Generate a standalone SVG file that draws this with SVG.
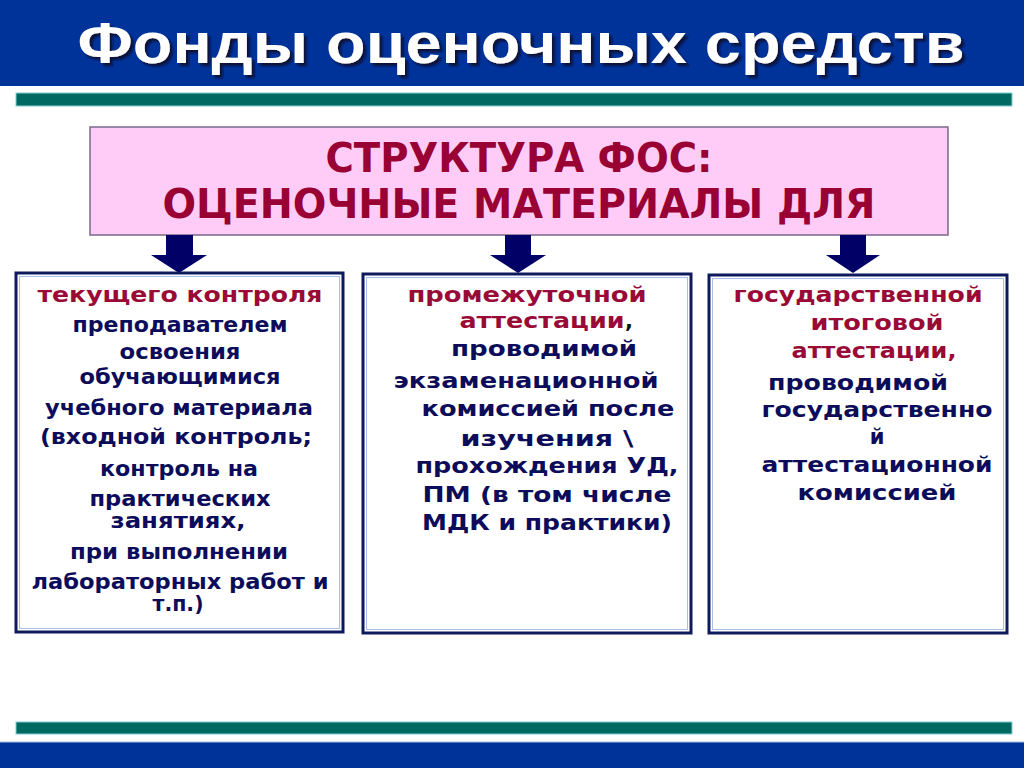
<svg xmlns="http://www.w3.org/2000/svg" width="1024" height="768" viewBox="0 0 1024 768">
<style>
.t{font-family:"DejaVu Sans","Liberation Sans",sans-serif;font-weight:bold;font-size:21px;fill:#0c0c5a;text-anchor:middle}
.r{fill:#9a0a36}
.hd{font-family:"Liberation Sans",Arial,sans-serif;font-weight:bold;text-anchor:middle}
.sub{font-family:"DejaVu Sans","Liberation Sans",sans-serif;font-weight:bold;text-anchor:middle;fill:#990033;font-size:40px}
.box{fill:#ffffff;stroke:#0f1a5e;stroke-width:3}
.inner{fill:none;stroke:#a8c0e8;stroke-width:1}
.arr{fill:#000066}
</style>
<defs>
<filter id="sh" x="-5%" y="-20%" width="110%" height="150%">
<feDropShadow dx="3" dy="3" stdDeviation="1.2" flood-color="#101030" flood-opacity="0.9"/>
</filter>
</defs>
<rect x="0" y="0" width="1024" height="768" fill="#ffffff"/>
<g id="header">
<rect x="0" y="0" width="1024" height="86" fill="#003399"/>
<rect x="16" y="93" width="996" height="13" fill="#006a62" stroke="#7fd0d0" stroke-width="1"/>
<text class="hd" x="521" y="63" font-size="57" fill="#ffffff" filter="url(#sh)" textLength="887" lengthAdjust="spacingAndGlyphs">Фонды оценочных средств</text>
</g>
<g id="footer">
<rect x="16" y="722" width="996" height="12" fill="#006a62" stroke="#7fd0d0" stroke-width="1"/>
<rect x="0" y="742" width="1024" height="26" fill="#003399"/>
<line x1="0" y1="742" x2="1024" y2="742" stroke="#9fc0e8" stroke-width="1"/>
</g>
<g id="structure">
<rect x="90" y="127" width="858" height="108" fill="#ffccf8" stroke="#7a6a8a" stroke-width="1.5"/>
<text class="sub" x="519" y="172" textLength="387" lengthAdjust="spacingAndGlyphs">СТРУКТУРА ФОС:</text>
<text class="sub" x="519" y="218" textLength="713" lengthAdjust="spacingAndGlyphs">ОЦЕНОЧНЫЕ МАТЕРИАЛЫ ДЛЯ</text>
</g>
<g id="connectors">
<polygon class="arr" points="166,235 193,235 193,255 207,255 179,273 151,255 166,255"/>
<polygon class="arr" points="505,235 531,235 531,255 546,255 518,273 490,255 505,255"/>
<polygon class="arr" points="840,235 866,235 866,255 880,255 853,273 826,255 840,255"/>
</g>
<g id="current">
<rect class="box" x="16" y="273" width="327" height="359"/>
<rect class="inner" x="19.5" y="276.5" width="320" height="352"/>
<text class="t r" x="180" y="302" textLength="285" lengthAdjust="spacingAndGlyphs">текущего контроля</text>
<text class="t" x="180" y="332" textLength="215" lengthAdjust="spacingAndGlyphs">преподавателем</text>
<text class="t" x="180" y="359" textLength="121" lengthAdjust="spacingAndGlyphs">освоения</text>
<text class="t" x="180" y="384" textLength="201" lengthAdjust="spacingAndGlyphs">обучающимися</text>
<text class="t" x="179" y="415" textLength="268" lengthAdjust="spacingAndGlyphs">учебного материала</text>
<text class="t" x="176" y="444" textLength="272" lengthAdjust="spacingAndGlyphs">(входной контроль;</text>
<text class="t" x="179" y="476" textLength="158" lengthAdjust="spacingAndGlyphs">контроль на</text>
<text class="t" x="180" y="506" textLength="181" lengthAdjust="spacingAndGlyphs">практических</text>
<text class="t" x="178" y="528" textLength="135" lengthAdjust="spacingAndGlyphs">занятиях,</text>
<text class="t" x="179" y="559" textLength="218" lengthAdjust="spacingAndGlyphs">при выполнении</text>
<text class="t" x="180" y="589" textLength="297" lengthAdjust="spacingAndGlyphs">лабораторных работ и</text>
<text class="t" x="178" y="611" textLength="51" lengthAdjust="spacingAndGlyphs">т.п.)</text>
</g>
<g id="intermediate">
<rect class="box" x="363" y="274" width="328" height="359"/>
<rect class="inner" x="366.5" y="277.5" width="321" height="352"/>
<text class="t r" x="527" y="302" textLength="239" lengthAdjust="spacingAndGlyphs">промежуточной</text>
<text class="t r" x="542" y="328" textLength="165" lengthAdjust="spacingAndGlyphs">аттестации</text>
<text class="t" x="629" y="328" style="fill:#111111">,</text>
<text class="t" x="544" y="356" textLength="186" lengthAdjust="spacingAndGlyphs">проводимой</text>
<text class="t" x="526" y="388" textLength="265" lengthAdjust="spacingAndGlyphs">экзаменационной</text>
<text class="t" x="548" y="416" textLength="253" lengthAdjust="spacingAndGlyphs">комиссией после</text>
<text class="t" x="547" y="446" textLength="173" lengthAdjust="spacingAndGlyphs">изучения \</text>
<text class="t" x="547" y="473" textLength="263" lengthAdjust="spacingAndGlyphs">прохождения УД,</text>
<text class="t" x="547" y="502" textLength="249" lengthAdjust="spacingAndGlyphs">ПМ (в том числе</text>
<text class="t" x="547" y="530" textLength="250" lengthAdjust="spacingAndGlyphs">МДК и практики)</text>
</g>
<g id="final">
<rect class="box" x="709" y="275" width="298" height="358"/>
<rect class="inner" x="712.5" y="278.5" width="291" height="351"/>
<text class="t r" x="858" y="302" textLength="249" lengthAdjust="spacingAndGlyphs">государственной</text>
<text class="t r" x="877" y="330" textLength="133" lengthAdjust="spacingAndGlyphs">итоговой</text>
<text class="t r" x="874" y="358" textLength="165" lengthAdjust="spacingAndGlyphs">аттестации,</text>
<text class="t" x="858" y="390" textLength="180" lengthAdjust="spacingAndGlyphs">проводимой</text>
<text class="t" x="877" y="417" textLength="231" lengthAdjust="spacingAndGlyphs">государственно</text>
<text class="t" x="877" y="444">й</text>
<text class="t" x="877" y="472" textLength="231" lengthAdjust="spacingAndGlyphs">аттестационной</text>
<text class="t" x="877" y="500" textLength="159" lengthAdjust="spacingAndGlyphs">комиссией</text>
</g>
</svg>
